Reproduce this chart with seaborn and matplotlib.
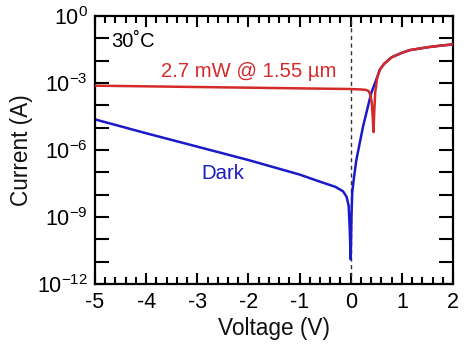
import numpy as np
import pandas as pd
import matplotlib
matplotlib.use('Agg')
import matplotlib.pyplot as plt
import matplotlib.ticker as mticker
import seaborn as sns

# Dữ liệu (V, log10 I)
light_v = [-5, -4, -3, -2, -1, 0, 0.2, 0.3, 0.35, 0.38, 0.41, 0.43, 0.445,
           0.46, 0.48, 0.52, 0.57, 0.65, 0.8, 1.0, 1.15, 1.5, 1.75, 2.0]
light_log_i = [-3.12, -3.15, -3.18, -3.21, -3.24, -3.27, -3.29, -3.31, -3.36, -3.5,
               -3.85, -4.5, -5.2, -4.3, -3.4, -2.75, -2.4, -2.15, -1.85, -1.65,
               -1.53, -1.4, -1.33, -1.27]

dark_v = [-5, -4, -3, -2.5, -2, -1, -0.6, -0.3, -0.15, -0.08, -0.04, -0.02, 0.0,
          0.015, 0.03, 0.06, 0.11, 0.24, 0.4, 0.5, 0.57, 0.65, 0.8, 1.0, 1.15,
          1.5, 1.75, 2.0]
dark_log_i = [-4.63, -5.25, -5.85, -6.15, -6.45, -7.1, -7.42, -7.65, -7.85, -8.1,
              -8.5, -9.5, -10.9, -9.0, -7.9, -7.3, -6.45, -4.96, -3.46, -2.85,
              -2.4, -2.15, -1.85, -1.65, -1.53, -1.4, -1.33, -1.27]

y_major = [1e-12, 1e-9, 1e-6, 1e-3, 1e0]
y_labels = ['$10^{-12}$', '$10^{-9}$', '$10^{-6}$', '$10^{-3}$', '$10^{0}$']
x_major = [-5, -4, -3, -2, -1, 0, 1, 2]

light_df = pd.DataFrame({'V': light_v, 'I': 10.0 ** np.array(light_log_i)})
dark_df = pd.DataFrame({'V': dark_v, 'I': 10.0 ** np.array(dark_log_i)})

sns.set_style('ticks')
plt.rcParams['font.family'] = ['Liberation Sans', 'DejaVu Sans']
plt.rcParams['mathtext.fontset'] = 'custom'
plt.rcParams['mathtext.rm'] = 'Liberation Sans'
plt.rcParams['mathtext.it'] = 'Liberation Sans'
plt.rcParams['mathtext.default'] = 'regular'

fig = plt.figure(figsize=(4.74, 3.53), dpi=100)
ax = fig.add_axes([0.2004, 0.1955, 0.7553, 0.7592])

ax.axvline(0, color='#333333', lw=1.0, ls=(0, (3, 2.5)), zorder=1)
sns.lineplot(data=dark_df, x='V', y='I', color='#1a1ac8', lw=1.8,
             estimator=None, sort=False, ax=ax, zorder=2)
sns.lineplot(data=light_df, x='V', y='I', color='#d42a2a', lw=1.8,
             estimator=None, sort=False, ax=ax, zorder=3)

ax.set_yscale('log')
ax.set_xlim(-5, 2)
ax.set_ylim(1e-12, 1e0)

ax.yaxis.set_major_locator(mticker.FixedLocator(y_major))
ax.yaxis.set_minor_locator(mticker.FixedLocator([10.0 ** k for k in range(-12, 1)]))
ax.set_yticklabels(y_labels)
ax.yaxis.set_minor_formatter(mticker.NullFormatter())
ax.xaxis.set_major_locator(mticker.FixedLocator(x_major))
ax.xaxis.set_minor_locator(mticker.MultipleLocator(0.2))
ax.set_xticklabels([str(v) for v in x_major])

ax.tick_params(which='both', direction='in', top=True, right=True,
               width=1.5, labelsize=15.5, colors='black')
ax.tick_params(axis='y', which='both', length=10, pad=5)
ax.tick_params(axis='x', which='major', length=8, pad=6)
ax.tick_params(axis='x', which='minor', length=5)
for s in ax.spines.values():
    s.set_linewidth(1.6)
    s.set_color('black')

ax.set_xlabel('Voltage (V)', fontsize=16.3, labelpad=3, color='#111111')
ax.set_ylabel('Current (A)', fontsize=16.3, labelpad=3, color='#111111')

ax.text(-4.68, 10 ** -1.14, '30˚C', fontsize=14.5, color='black', va='center')
ax.text(-2.0, 10 ** -2.49, '2.7 mW @ 1.55 µm', fontsize=14.6, color='#d42a2a',
        ha='center', va='center')
ax.text(-2.5, 10 ** -7.05, 'Dark', fontsize=14.6, color='#1a1ac8',
        ha='center', va='center')

plt.savefig('out.png', dpi=100)
